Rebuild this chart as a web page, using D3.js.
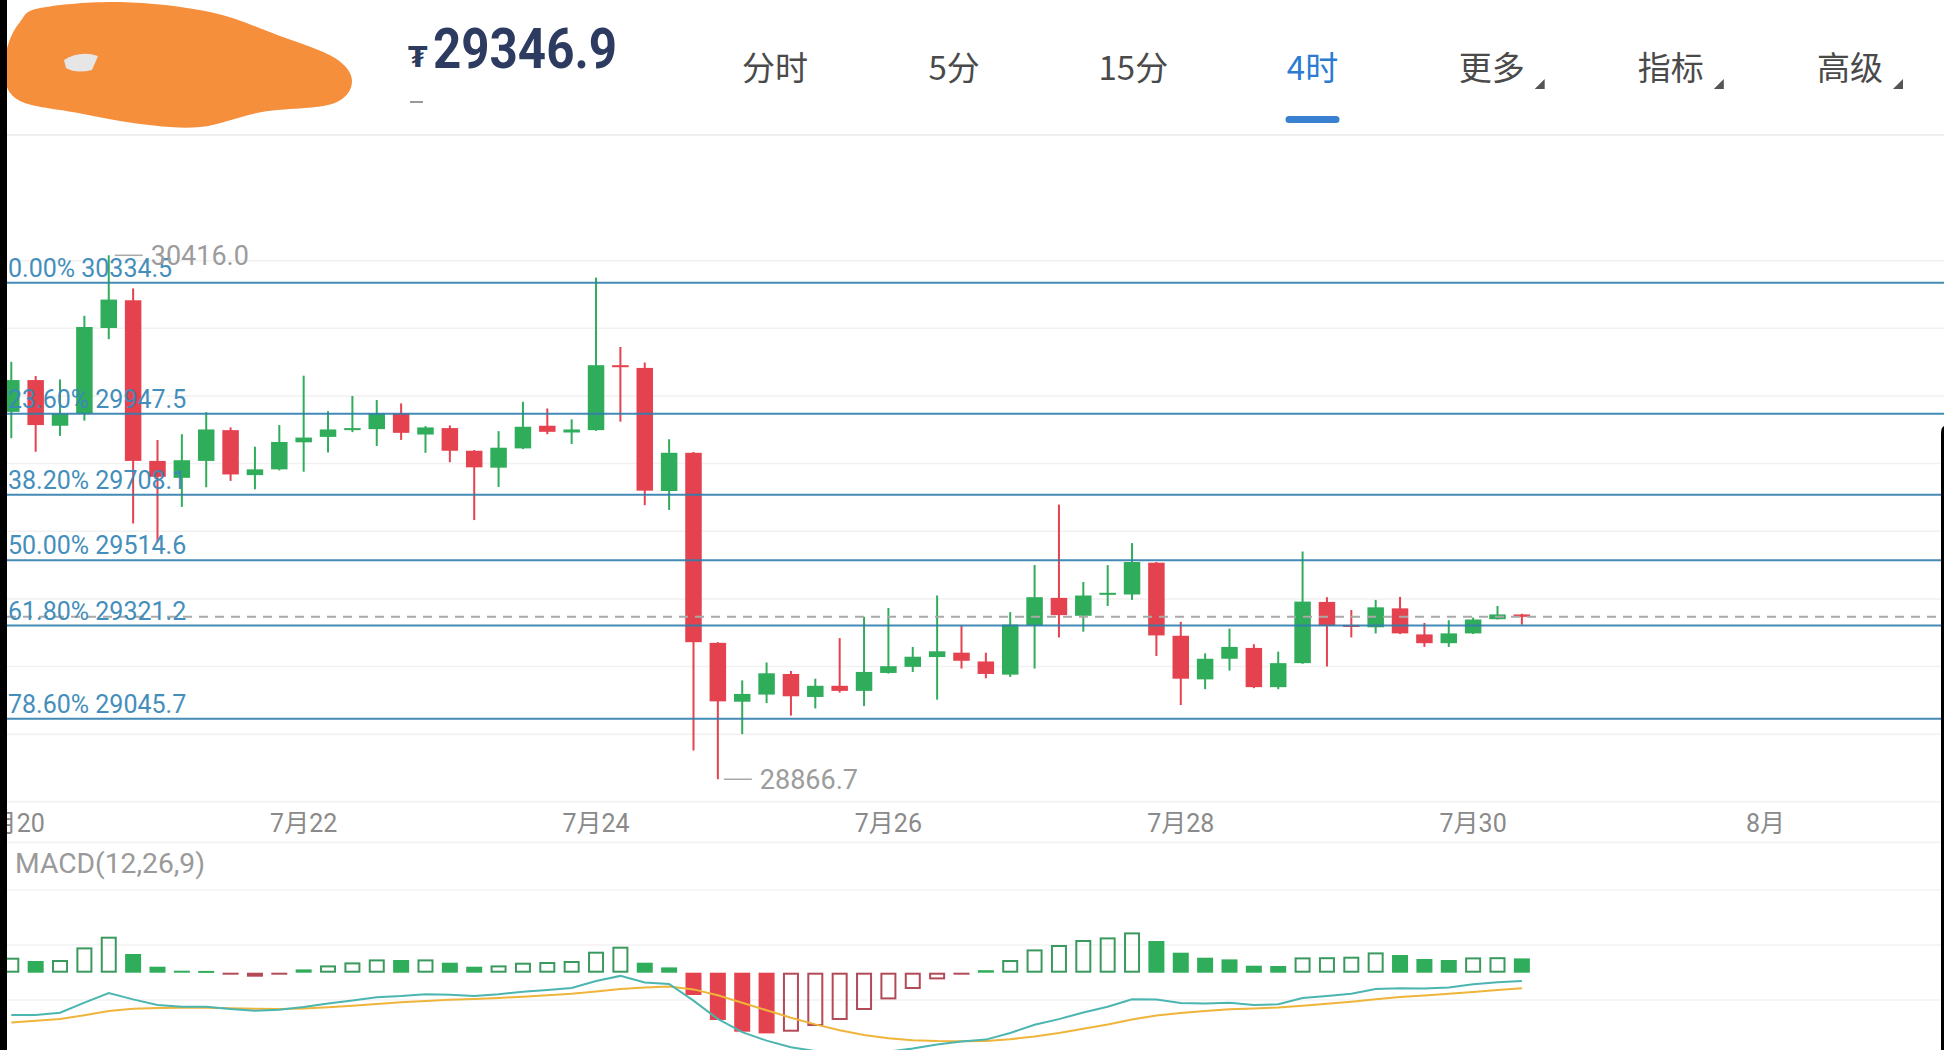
<!DOCTYPE html>
<html>
<head>
<meta charset="utf-8">
<script src="https://cdn.jsdelivr.net/npm/d3@7"></script>
<style>
html, body { margin: 0; padding: 0; background: #fff; overflow: hidden; }
svg { display: block; }
</style>
</head>
<body>
<svg id="chart"></svg>
<script>
// 4h candles, first one is 7月20 00:00
const startTime = new Date(2023, 6, 20, 0, 0);
const openP  = [29953,30047,29912,29948,30201,30283,29808,29758,29808,29899,29766,29783,29863,29879,29899,29902,29948,29886,29905,29838,29788,29845,29912,29892,29899,30091,30083,29719,29832,29270,29096,29117,29178,29110,29143,29128,29181,29199,29228,29241,29215,29176,29321,29403,29350,29412,29413,29507,29291,29162,29223,29255,29139,29210,29391,29323,29316,29372,29295,29269,29298,29340,29354];
const highP  = [30101,30059,30049,30237,30416,30318,29870,29887,29952,29907,29850,29914,30060,29955,30000,29988,29978,29911,29913,29840,29896,29983,29963,29931,30350,30145,30099,29872,29834,29272,29159,29212,29187,29164,29284,29347,29373,29258,29410,29321,29241,29361,29500,29679,29450,29500,29565,29509,29332,29239,29312,29266,29244,29540,29405,29367,29397,29406,29329,29337,29345,29379,29356];
const lowP   = [29875,29835,29882,29927,30168,29623,29569,29672,29730,29749,29724,29780,29776,29833,29893,29852,29870,29832,29804,29633,29731,29843,29887,29858,29897,29924,29677,29663,28952,28866.7,29000,29092,29055,29076,29123,29083,29179,29184,29102,29194,29165,29169,29194,29286,29303,29379,29397,29231,29086,29133,29188,29136,29133,29208,29200,29286,29298,29296,29258,29258,29296,29339,29324];
const closeP = [30047,29914,29947,30204,30285,29808,29761,29810,29901,29768,29783,29864,29877,29901,29905,29948,29891,29907,29838,29789,29847,29909,29894,29901,30091,30085,29720,29832,29272,29097,29119,29180,29112,29143,29128,29184,29201,29229,29245,29217,29178,29324,29405,29352,29410,29418,29509,29292,29164,29223,29258,29139,29210,29392,29321,29317,29375,29298,29269,29298,29339,29354,29346.9];

// Fibonacci levels drawn by the user
const fibPct = ["0.00%", "23.60%", "38.20%", "50.00%", "61.80%", "78.60%"];
const fibVal = [30334.5, 29947.5, 29708.1, 29514.6, 29321.2, 29045.7];
const lastPrice = 29346.9;

// MACD(12,26,9)
const macdHist = [15,11.7,12.7,25.3,36,18.7,6,2,1.8,-1.5,-4,-1.5,3.3,7.3,10.3,13.3,12.7,13.3,10,6,7.3,10,10.7,11.7,21,26,10,5.3,-22.3,-47.3,-59,-60.7,-59,-53.3,-47.3,-37.3,-26.7,-16.3,-6.7,-0.5,2.5,12.7,23.3,27.7,32.7,35.3,40.3,31.7,20,15,13.3,7,6.7,15.3,15.5,16,20.3,17.7,13.7,12.7,15.3,15.5,14.3];
const macdDif  = [-42.2,-42.2,-40,-29.9,-20.3,-26.7,-32.3,-34,-34,-36.3,-38,-37,-34.2,-30.8,-27.9,-24.5,-23.3,-21.5,-22,-23.2,-21.5,-19,-17.3,-15.2,-8.3,-3.2,-9.8,-11.2,-27.9,-46.3,-59.5,-67.9,-74.5,-78.4,-81.3,-81,-78.9,-75.9,-71.7,-68.7,-66.9,-60.3,-52,-46.4,-39.8,-34,-26.5,-26.9,-30.2,-30.8,-30,-32.2,-31.5,-25.3,-23.4,-21.1,-16.4,-15.5,-15.8,-14.8,-11.5,-9.5,-8.4];
const macdDea  = [-49.7,-48,-46.3,-42.5,-38.3,-36,-35.3,-35,-35,-35.5,-36,-36.2,-35.8,-34.5,-33,-31.2,-29.6,-28.2,-27,-26.2,-25.2,-24,-22.6,-21,-18.8,-16.2,-14.8,-13.9,-16.7,-22.6,-30,-37.6,-45,-51.7,-57.6,-62.3,-65.6,-67.6,-68.4,-68.5,-68.2,-66.6,-63.7,-60.2,-56.1,-51.7,-46.7,-42.7,-40.2,-38.3,-36.6,-35.7,-34.9,-33,-31.1,-29.1,-26.6,-24.4,-22.7,-21.1,-19.2,-17.3,-15.5];

const tickDates  = [new Date(2023,6,20), new Date(2023,6,22), new Date(2023,6,24), new Date(2023,6,26), new Date(2023,6,28), new Date(2023,6,30), new Date(2023,7,1)];
const tickLabels = ["7月20", "7月22", "7月24", "7月26", "7月28", "7月30", "8月"];

const tabs = ["分时", "5分", "15分", "4时", "更多", "指标", "高级"];
const activeTab = "4时";
const tabsWithMenu = ["更多", "指标", "高级"];
const headerPrice = "29346.9";

const W = 1944, H = 1050;
const UP = "#30ad5b", DOWN = "#e5424f";
const numFont = "Roboto, 'Noto Sans CJK SC', sans-serif";
const cjkFont = "'Noto Sans CJK SC', sans-serif";

const svg = d3.select("#chart").attr("width", W).attr("height", H);

const candles = openP.map((o, i) => ({
    t: d3.timeHour.offset(startTime, 4 * i),
    o: o, h: highP[i], l: lowP[i], c: closeP[i]
}));

const x = d3.scaleTime()
    .domain([new Date(2023, 6, 20), new Date(2023, 7, 1)])
    .range([11.3, 1765.5]);
const y = d3.scaleLinear().domain([28800, 30400]).range([801.8, 260.7]);
const yM = d3.scaleLinear().domain([-77.3, 130.4]).range([1050, 842.3]);

// ---- header ----
const blob = [[40,8],[120,2],[210,12],[280,36],[335,58],[352,82],[332,104],[262,112],[200,127],[140,124],[78,113],[20,101],[4,76],[8,45],[20,22]];
svg.append("path")
    .attr("d", d3.line().curve(d3.curveCardinalClosed)(blob))
    .attr("fill", "#f68f3c");
svg.append("path").attr("d", "M64,60 Q80,50 98,56 L92,70 Q76,74 66,68 Z")
    .attr("fill", "#e6e6e6");

svg.append("text").attr("x", 408).attr("y", 67)
    .attr("font-family", "'DejaVu Sans', sans-serif").attr("font-weight", 700)
    .attr("font-size", 28).attr("fill", "#2d3b60").text("₮");
svg.append("text").attr("x", 433).attr("y", 68)
    .attr("font-family", numFont).attr("font-weight", 700)
    .attr("font-size", 56).attr("fill", "#2d3b60")
    .attr("textLength", 184).attr("lengthAdjust", "spacingAndGlyphs")
    .text(headerPrice);
svg.append("line").attr("x1", 410).attr("x2", 423).attr("y1", 102).attr("y2", 102)
    .attr("stroke", "#9a9a9a").attr("stroke-width", 2);

const tabX = d3.scalePoint().domain(tabs).range([775, 1850]);
svg.append("g").selectAll("text").data(tabs).join("text")
    .attr("x", d => tabX(d)).attr("y", 80)
    .attr("text-anchor", "middle")
    .attr("font-family", cjkFont).attr("font-size", 33)
    .attr("fill", d => d === activeTab ? "#2b7bd3" : "#4a4a4a")
    .text(d => d);
svg.append("rect").attr("x", tabX(activeTab) - 27).attr("y", 116)
    .attr("width", 54).attr("height", 7).attr("rx", 3.5).attr("fill", "#3a80d0");
svg.append("g").selectAll("path").data(tabsWithMenu).join("path")
    .attr("d", d => { const a = tabX(d) + 43; return `M${a + 10},79 L${a + 10},89 L${a},89 Z`; })
    .attr("fill", "#555");

svg.append("line").attr("x1", 0).attr("x2", W).attr("y1", 135).attr("y2", 135)
    .attr("stroke", "#efefef").attr("stroke-width", 2);

// ---- price grid ----
svg.append("g").selectAll("line").data(y.ticks(8)).join("line")
    .attr("x1", 0).attr("x2", W)
    .attr("y1", d => y(d)).attr("y2", d => y(d))
    .attr("stroke", "#f1f1f1").attr("stroke-width", 1.5);
svg.append("line").attr("x1", 0).attr("x2", W).attr("y1", 842.3).attr("y2", 842.3)
    .attr("stroke", "#f1f1f1").attr("stroke-width", 1.5);

// ---- candles ----
const bodyW = 16.5;
const cg = svg.append("g");
cg.selectAll("line").data(candles).join("line")
    .attr("x1", d => x(d.t)).attr("x2", d => x(d.t))
    .attr("y1", d => y(d.h)).attr("y2", d => y(d.l))
    .attr("stroke", d => d.c >= d.o ? UP : DOWN).attr("stroke-width", 2);
cg.selectAll("rect").data(candles).join("rect")
    .attr("x", d => x(d.t) - bodyW / 2)
    .attr("y", d => y(Math.max(d.o, d.c)))
    .attr("width", bodyW)
    .attr("height", d => Math.max(2, Math.abs(y(d.o) - y(d.c))))
    .attr("fill", d => d.c >= d.o ? UP : DOWN);

// last price dashed line
svg.append("line").attr("x1", 7).attr("x2", W)
    .attr("y1", y(lastPrice)).attr("y2", y(lastPrice))
    .attr("stroke", "#a9a9a9").attr("stroke-width", 2).attr("stroke-dasharray", "9,7");

// ---- fib lines ----
const fg = svg.append("g");
fg.selectAll("line").data(fibVal).join("line")
    .attr("x1", 7).attr("x2", W)
    .attr("y1", d => y(d)).attr("y2", d => y(d))
    .attr("stroke", "#2f7eae").attr("stroke-width", 2).attr("opacity", 0.9);
fg.selectAll("text").data(fibVal).join("text")
    .attr("x", 8).attr("y", d => y(d) - 6)
    .attr("font-family", numFont).attr("font-size", 25)
    .attr("fill", "#3a89b9").attr("opacity", 0.95)
    .text((d, i) => `${fibPct[i]} ${d.toFixed(1)}`);

// high / low markers
const hiI = d3.maxIndex(highP), loI = d3.minIndex(lowP);
[[hiI, highP[hiI]], [loI, lowP[loI]]].forEach(([i, v]) => {
    const cx = x(candles[i].t);
    svg.append("line").attr("x1", cx + 6).attr("x2", cx + 34)
        .attr("y1", y(v)).attr("y2", y(v))
        .attr("stroke", "#a8a8a8").attr("stroke-width", 1.5);
    svg.append("text").attr("x", cx + 42).attr("y", y(v) + 10)
        .attr("font-family", numFont).attr("font-size", 27)
        .attr("fill", "#9c9c9c").text(v.toFixed(1));
});

// ---- time axis ----
svg.append("g").selectAll("text").data(tickDates).join("text")
    .attr("x", d => x(d)).attr("y", 832)
    .attr("text-anchor", "middle")
    .attr("font-family", numFont).attr("font-size", 25)
    .attr("fill", "#8a8a8a")
    .text((d, i) => tickLabels[i]);

// ---- MACD panel ----
svg.append("g").selectAll("line").data([890, 945, 1000]).join("line")
    .attr("x1", 0).attr("x2", W).attr("y1", d => d).attr("y2", d => d)
    .attr("stroke", "#f2f2f2").attr("stroke-width", 1.5);
svg.append("text").attr("x", 15).attr("y", 873)
    .attr("font-family", numFont).attr("font-size", 27)
    .attr("textLength", 190).attr("lengthAdjust", "spacingAndGlyphs")
    .attr("fill", "#9a9a9a").text("MACD(12,26,9)");

const barW = 16;
const bars = macdHist.map((v, i) => ({
    t: candles[i].t, v: v,
    hollow: i === 0 || v > macdHist[i - 1]
}));
svg.append("g").selectAll("rect").data(bars).join("rect")
    .each(function(d) {
        const top = d.v >= 0 ? yM(d.v) : yM(0);
        const h = Math.max(2, Math.abs(yM(d.v) - yM(0)));
        const el = d3.select(this);
        const col = d.v >= 0 ? UP : DOWN;
        if (d.hollow && h > 4) {
            el.attr("x", x(d.t) - barW / 2 + 1).attr("y", top + 1)
              .attr("width", barW - 2).attr("height", h - 2)
              .attr("fill", "none")
              .attr("stroke", d.v >= 0 ? "#3a9a5e" : "#b34a58").attr("stroke-width", 2);
        } else {
            el.attr("x", x(d.t) - barW / 2).attr("y", top)
              .attr("width", barW).attr("height", h)
              .attr("fill", d.v >= 0 ? col : (h <= 4 ? "#b34a58" : col));
        }
    });

const mLine = d3.line().x((d, i) => x(candles[i].t)).y(d => yM(d));
svg.append("path").attr("d", mLine(macdDea))
    .attr("fill", "none").attr("stroke", "#efb43a").attr("stroke-width", 2);
svg.append("path").attr("d", mLine(macdDif))
    .attr("fill", "none").attr("stroke", "#4bb5b0").attr("stroke-width", 2);

// phone screen edges
svg.append("rect").attr("x", 0).attr("y", 0).attr("width", 7).attr("height", H).attr("fill", "#000");
svg.append("path").attr("d", `M1944,426 L1944,${H} L1941,${H} L1941,434 Q1941,427 1944,426 Z`).attr("fill", "#000");
</script>
</body>
</html>
